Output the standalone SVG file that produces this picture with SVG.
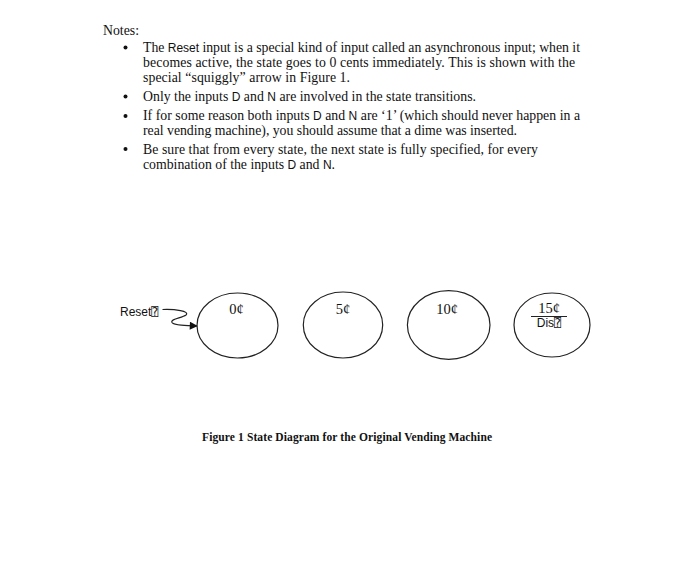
<svg xmlns="http://www.w3.org/2000/svg" width="700" height="587" viewBox="0 0 700 587">
<style>
.t{font-family:"Liberation Serif","Times New Roman",serif;font-size:13.8px;fill:#111}
.s{font-family:"Liberation Sans",Arial,sans-serif;font-size:12px}
.n{font-family:"Liberation Serif","Times New Roman",serif;font-size:14.5px;fill:#111}
.ns{font-family:"Liberation Sans","DejaVu Sans Mono","DejaVu Sans",sans-serif;font-size:12px;fill:#111}
.st{fill:none;stroke:#222;stroke-width:1.2}
.cap{font-family:"Liberation Serif","Times New Roman",serif;font-size:11.5px;font-weight:bold;fill:#111}
</style>
<defs>
<marker id="ah" viewBox="0 0 10 10" refX="9" refY="5" markerWidth="9" markerHeight="8" markerUnits="userSpaceOnUse" orient="auto">
<path d="M0,0 L10,5 L0,10 z" fill="#111"/>
</marker>
</defs>
<rect width="700" height="587" fill="#fff"/>
<g id="notes">
<text class="t" x="103" y="35">Notes:</text>
<g fill="#111"><circle cx="125.5" cy="47.5" r="2"/><circle cx="125.5" cy="96.5" r="2"/><circle cx="125.5" cy="116" r="2"/><circle cx="125.5" cy="149" r="2"/></g>
<text class="t" x="143" y="51.5" textLength="437" lengthAdjust="spacing">The <tspan class="s">Reset</tspan> input is a special kind of input called an asynchronous input; when it</text>
<text class="t" x="143" y="67" textLength="432" lengthAdjust="spacing">becomes active, the state goes to 0 cents immediately.  This is shown with the</text>
<text class="t" x="143" y="82" textLength="207" lengthAdjust="spacing">special “squiggly” arrow in Figure 1.</text>
<text class="t" x="143" y="101" textLength="333" lengthAdjust="spacing">Only the inputs <tspan class="s">D</tspan> and <tspan class="s">N</tspan> are involved in the state transitions.</text>
<text class="t" x="143" y="120" textLength="437" lengthAdjust="spacing">If for some reason both inputs <tspan class="s">D</tspan> and <tspan class="s">N</tspan> are ‘1’ (which should never happen in a</text>
<text class="t" x="143" y="135" textLength="374" lengthAdjust="spacing">real vending machine), you should assume that a dime was inserted.</text>
<text class="t" x="143" y="153.5" textLength="395" lengthAdjust="spacing">Be sure that from every state, the next state is fully specified, for every</text>
<text class="t" x="143" y="169" textLength="192" lengthAdjust="spacing">combination of the inputs <tspan class="s">D</tspan> and <tspan class="s">N</tspan>.</text>
</g>
<g id="connectors">
<path class="st" d="M162.5,309.5 C175,309 190,311 186,315 C182,318 170,319 172,322.5 C174,325.5 185,325.5 197,326" marker-end="url(#ah)"/>
</g>
<g id="reset">
<text class="ns" x="120" y="316">Reset⍰</text>
</g>
<g id="s0">
<ellipse class="st" cx="237.5" cy="325.5" rx="40.5" ry="32.5"/>
<text class="n" x="236.5" y="314" text-anchor="middle">0¢</text>
</g>
<g id="s5">
<ellipse class="st" cx="343" cy="325" rx="39.7" ry="33"/>
<text class="n" x="343" y="314" text-anchor="middle">5¢</text>
</g>
<g id="s10">
<ellipse class="st" cx="448.7" cy="325" rx="41.3" ry="34.3"/>
<text class="n" x="447" y="314" text-anchor="middle">10¢</text>
</g>
<g id="s15">
<ellipse class="st" cx="552" cy="325" rx="38" ry="32"/>
<text class="n" x="549" y="313" text-anchor="middle">15¢</text>
<line x1="531" y1="316.5" x2="567" y2="316.5" stroke="#222" stroke-width="1"/>
<text class="ns" x="549" y="327" text-anchor="middle">Dis⍰</text>
</g>
<g id="caption">
<text class="cap" x="202" y="441" textLength="290" lengthAdjust="spacing">Figure 1 State Diagram for the Original Vending Machine</text>
</g>
</svg>
